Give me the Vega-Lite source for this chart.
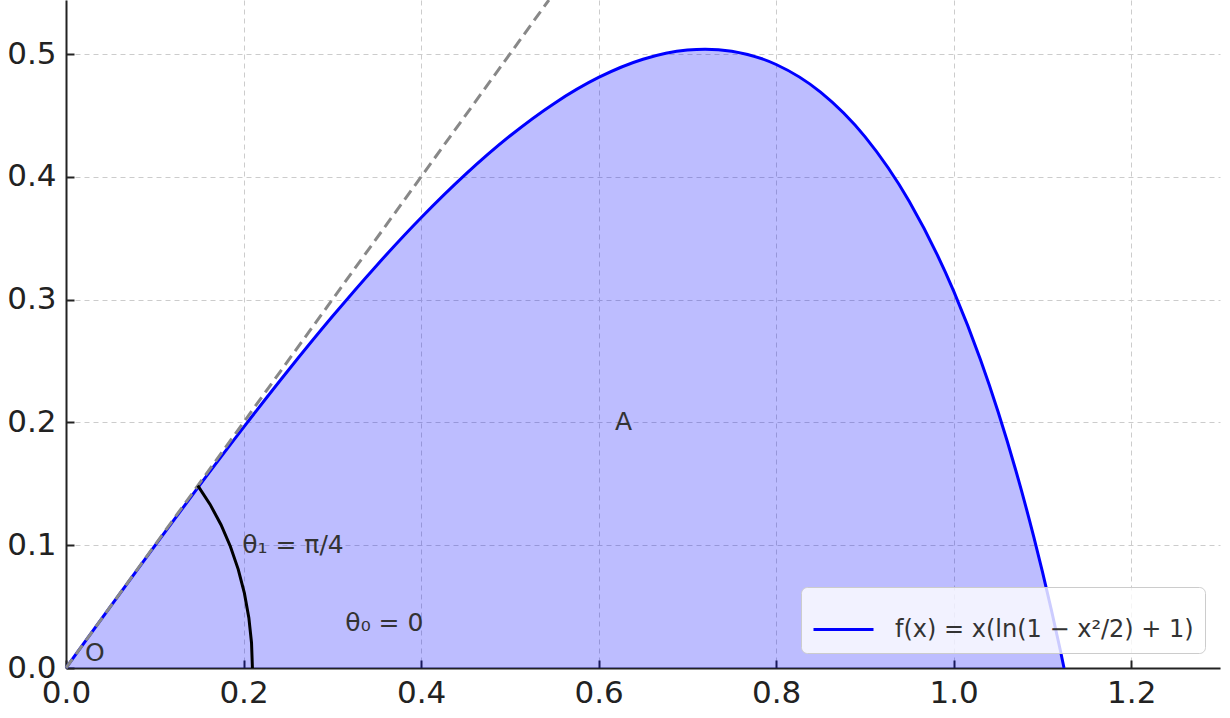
{
  "$schema": "https://vega.github.io/schema/vega-lite/v6.json",
  "width": 1154,
  "height": 668,
  "autosize": {"type": "none"},
  "padding": {"left": 66, "top": 0, "right": 10, "bottom": 50},
  "background": "white",
  "config": {
    "view": {"stroke": null},
    "font": "DejaVu Sans",
    "axis": {
      "gridColor": "#cccccc",
      "gridDash": [5, 4],
      "gridWidth": 1,
      "domainColor": "#222222",
      "domainWidth": 2,
      "tickColor": "#222222",
      "tickWidth": 2,
      "tickSize": -8,
      "labelFont": "DejaVu Sans",
      "labelFontSize": 31,
      "labelColor": "#222222",
      "labelPadding": 18,
      "title": null,
      "labelFlush": false,
      "labelOverlap": false
    }
  },
  "datasets": {
    "curve": [
      {"x": 0, "y": 0, "series": "f(x) = x(ln(1 − x²/2) + 1)"},
      {"x": 0.05, "y": 0.04994, "series": "f(x) = x(ln(1 − x²/2) + 1)"},
      {"x": 0.1, "y": 0.0995, "series": "f(x) = x(ln(1 − x²/2) + 1)"},
      {"x": 0.15, "y": 0.1483, "series": "f(x) = x(ln(1 − x²/2) + 1)"},
      {"x": 0.2, "y": 0.19596, "series": "f(x) = x(ln(1 − x²/2) + 1)"},
      {"x": 0.25, "y": 0.24206, "series": "f(x) = x(ln(1 − x²/2) + 1)"},
      {"x": 0.3, "y": 0.28619, "series": "f(x) = x(ln(1 − x²/2) + 1)"},
      {"x": 0.35, "y": 0.32788, "series": "f(x) = x(ln(1 − x²/2) + 1)"},
      {"x": 0.4, "y": 0.36665, "series": "f(x) = x(ln(1 − x²/2) + 1)"},
      {"x": 0.45, "y": 0.40196, "series": "f(x) = x(ln(1 − x²/2) + 1)"},
      {"x": 0.5, "y": 0.43323, "series": "f(x) = x(ln(1 − x²/2) + 1)"},
      {"x": 0.55, "y": 0.45981, "series": "f(x) = x(ln(1 − x²/2) + 1)"},
      {"x": 0.6, "y": 0.48093, "series": "f(x) = x(ln(1 − x²/2) + 1)"},
      {"x": 0.65, "y": 0.49576, "series": "f(x) = x(ln(1 − x²/2) + 1)"},
      {"x": 0.7, "y": 0.50327, "series": "f(x) = x(ln(1 − x²/2) + 1)"},
      {"x": 0.72, "y": 0.50398, "series": "f(x) = x(ln(1 − x²/2) + 1)"},
      {"x": 0.75, "y": 0.50232, "series": "f(x) = x(ln(1 − x²/2) + 1)"},
      {"x": 0.8, "y": 0.49147, "series": "f(x) = x(ln(1 − x²/2) + 1)"},
      {"x": 0.85, "y": 0.46899, "series": "f(x) = x(ln(1 − x²/2) + 1)"},
      {"x": 0.9, "y": 0.43273, "series": "f(x) = x(ln(1 − x²/2) + 1)"},
      {"x": 0.95, "y": 0.37989, "series": "f(x) = x(ln(1 − x²/2) + 1)"},
      {"x": 1.0, "y": 0.30685, "series": "f(x) = x(ln(1 − x²/2) + 1)"},
      {"x": 1.03, "y": 0.25134, "series": "f(x) = x(ln(1 − x²/2) + 1)"},
      {"x": 1.05, "y": 0.20864, "series": "f(x) = x(ln(1 − x²/2) + 1)"},
      {"x": 1.07, "y": 0.16084, "series": "f(x) = x(ln(1 − x²/2) + 1)"},
      {"x": 1.09, "y": 0.10734, "series": "f(x) = x(ln(1 − x²/2) + 1)"},
      {"x": 1.1, "y": 0.07824, "series": "f(x) = x(ln(1 − x²/2) + 1)"},
      {"x": 1.11, "y": 0.04746, "series": "f(x) = x(ln(1 − x²/2) + 1)"},
      {"x": 1.12, "y": 0.01488, "series": "f(x) = x(ln(1 − x²/2) + 1)"},
      {"x": 1.1243, "y": 0, "series": "f(x) = x(ln(1 − x²/2) + 1)"}
    ],
    "tangent": [
      {"x": 0, "y": 0},
      {"x": 0.544, "y": 0.544}
    ],
    "arc": [
      {"i": 0, "x": 0.21, "y": 0},
      {"i": 1, "x": 0.20899, "y": 0.02058},
      {"i": 2, "x": 0.20597, "y": 0.04097},
      {"i": 3, "x": 0.20096, "y": 0.06096},
      {"i": 4, "x": 0.19402, "y": 0.08036},
      {"i": 5, "x": 0.1852, "y": 0.09899},
      {"i": 6, "x": 0.17461, "y": 0.11667},
      {"i": 7, "x": 0.16233, "y": 0.13322},
      {"i": 8, "x": 0.14849, "y": 0.14849}
    ],
    "leftLabels": [
      {"x": 0.0214, "y": 0.0122, "label": "O"},
      {"x": 0.1985, "y": 0.1, "label": "θ₁ = π/4"},
      {"x": 0.3147, "y": 0.0366, "label": "θ₀ = 0"}
    ],
    "centerLabels": [
      {"x": 0.628, "y": 0.2, "label": "A"}
    ]
  },
  "layer": [
    {
      "data": {"name": "curve"},
      "mark": {"type": "area", "color": "#0000ff", "opacity": 0.26, "interpolate": "monotone"},
      "encoding": {
        "x": {"field": "x", "type": "quantitative", "scale": {"domain": [0, 1.3], "nice": false, "zero": false},
              "axis": {"values": [0, 0.2, 0.4, 0.6, 0.8, 1.0, 1.2], "format": ".1f"}},
        "y": {"field": "y", "type": "quantitative", "scale": {"domain": [0, 0.544], "nice": false},
              "axis": {"values": [0, 0.1, 0.2, 0.3, 0.4, 0.5], "format": ".1f"}}
      }
    },
    {
      "data": {"name": "curve"},
      "mark": {"type": "line", "strokeWidth": 3, "interpolate": "monotone"},
      "encoding": {
        "x": {"field": "x", "type": "quantitative"},
        "y": {"field": "y", "type": "quantitative"},
        "color": {"field": "series", "type": "nominal",
                  "scale": {"range": ["#0000ff"]},
                  "legend": {
                    "title": null,
                    "orient": "bottom-right",
                    "offset": 15,
                    "fillColor": "rgba(255,255,255,0.8)",
                    "strokeColor": "#cccccc",
                    "cornerRadius": 6,
                    "padding": 11,
                    "labelFontSize": 24,
                    "labelColor": "#333333",
                    "labelFont": "DejaVu Sans",
                    "symbolType": "stroke",
                    "symbolStrokeWidth": 3,
                    "symbolSize": 3600,
                    "labelOffset": 20,
                    "labelLimit": 500
                  }}
      }
    },
    {
      "data": {"name": "tangent"},
      "mark": {"type": "line", "color": "#888888", "strokeWidth": 3, "strokeDash": [11, 6]},
      "encoding": {
        "x": {"field": "x", "type": "quantitative"},
        "y": {"field": "y", "type": "quantitative"}
      }
    },
    {
      "data": {"name": "arc"},
      "mark": {"type": "line", "color": "#000000", "strokeWidth": 3},
      "encoding": {
        "x": {"field": "x", "type": "quantitative"},
        "y": {"field": "y", "type": "quantitative"},
        "order": {"field": "i", "type": "quantitative"}
      }
    },
    {
      "data": {"name": "leftLabels"},
      "mark": {"type": "text", "fontSize": 25, "color": "#333333", "baseline": "middle", "align": "left", "font": "DejaVu Sans"},
      "encoding": {
        "x": {"field": "x", "type": "quantitative"},
        "y": {"field": "y", "type": "quantitative"},
        "text": {"field": "label"}
      }
    },
    {
      "data": {"name": "centerLabels"},
      "mark": {"type": "text", "fontSize": 25, "color": "#333333", "baseline": "middle", "align": "center", "font": "DejaVu Sans"},
      "encoding": {
        "x": {"field": "x", "type": "quantitative"},
        "y": {"field": "y", "type": "quantitative"},
        "text": {"field": "label"}
      }
    }
  ]
}
